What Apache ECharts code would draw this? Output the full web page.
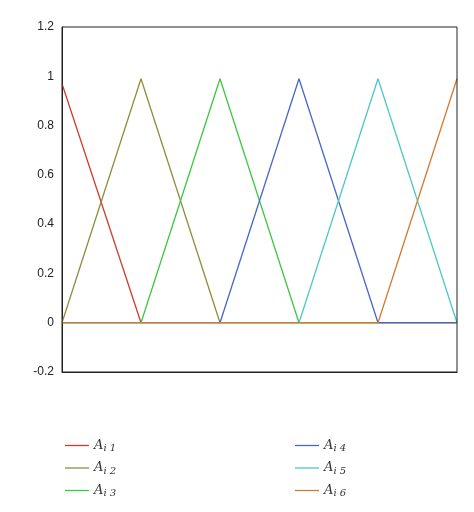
<!DOCTYPE html>
<html><head><meta charset="utf-8">
<script src="https://cdn.jsdelivr.net/npm/echarts@6/dist/echarts.min.js"></script>
<style>html,body{margin:0;background:#fff}#c{width:474px;height:512px}</style>
</head><body><div id="c"></div>
<script>
var nodes = [0, 1, 2, 3, 4, 5];
var names = ['i1', 'i2', 'i3', 'i4', 'i5', 'i6'];
var colors = ['#d23b2b', '#8e8e3e', '#3ec83e', '#4a66c8', '#4cc8c8', '#d27a32'];
var a1 = [0.97, 0, 0, 0, 0, 0];
var a2 = [0, 0.99, 0, 0, 0, 0];
var a3 = [0, 0, 0.99, 0, 0, 0];
var a4 = [0, 0, 0, 0.99, 0, 0];
var a5 = [0, 0, 0, 0, 0.99, 0];
var a6 = [0, 0, 0, 0, 0, 0.99];
var yTicks = [-0.2, 0, 0.2, 0.4, 0.6, 0.8, 1, 1.2];
var vals = [a1, a2, a3, a4, a5, a6];

var chart = echarts.init(document.getElementById('c'));
var series = vals.map(function (v, k) {
  return {
    name: names[k], type: 'line', symbol: 'none',
    lineStyle: { color: colors[k], width: 1.3 }, itemStyle: { color: colors[k] },
    data: v.map(function (y, j) { return [nodes[j], y]; })
  };
});
var rich = {
  a: { fontFamily: 'DejaVu Serif', fontStyle: 'italic', fontSize: 13, color: '#333' },
  s: { fontFamily: 'DejaVu Serif', fontStyle: 'italic', fontSize: 10, color: '#333', padding: [6, 0, 0, 0] }
};
function fmt(n) { return '{a|A}{s|' + n.charAt(0) + ' ' + n.charAt(1) + '}'; }
var leg = {
  orient: 'vertical', top: 434, itemWidth: 24, itemHeight: 10, itemGap: 8,
  icon: 'path://M0,0H24V1.3H0Z',
  textStyle: { rich: rich }, formatter: fmt
};
chart.setOption({
  animation: false,
  grid: { left: 62, right: 17, top: 27, bottom: 140 },
  xAxis: { type: 'value', min: 0, max: 5, axisLabel: { show: false }, axisTick: { show: false },
    splitLine: { show: false }, axisLine: { onZero: false, lineStyle: { color: '#222' } } },
  yAxis: { type: 'value', min: -0.2, max: 1.2, interval: 0.2,
    axisLabel: { color: '#222', fontSize: 12, fontFamily: 'Liberation Sans',
      formatter: function (v) { var r = Math.round(v * 10) / 10; return yTicks.indexOf(r) >= 0 ? String(r) : ''; } },
    axisTick: { show: false }, splitLine: { show: false },
    axisLine: { show: true, onZero: false, lineStyle: { color: '#222' } } },
  legend: [
    Object.assign({ left: 60, data: names.slice(0, 3) }, leg),
    Object.assign({ left: 290, data: names.slice(3) }, leg)
  ],
  graphic: [{ type: 'rect', shape: { x: 62, y: 27, width: 395, height: 345 },
    style: { fill: 'none', stroke: '#222', lineWidth: 1 }, z: 10 }],
  series: series
});
</script></body></html>
